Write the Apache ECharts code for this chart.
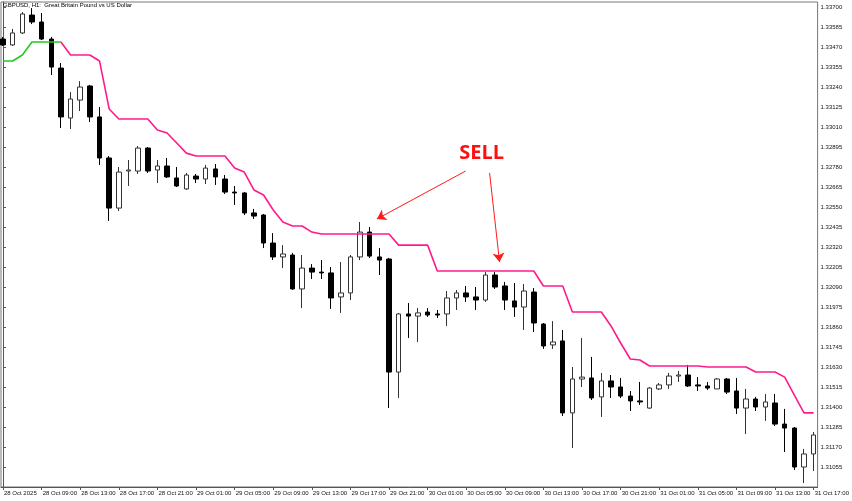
<!DOCTYPE html>
<html><head><meta charset="utf-8">
<script src="https://cdn.jsdelivr.net/npm/echarts@6/dist/echarts.min.js"></script>
<style>html,body{margin:0;padding:0;background:#fff}#c{width:852px;height:501px}</style>
</head><body><div id="c"></div>
<script>
const titleText = 'GBPUSD, H1:  Great Britain Pound vs US Dollar';
const xTickLabels = ["28 Oct 2025","28 Oct 09:00","28 Oct 13:00","28 Oct 17:00","28 Oct 21:00","29 Oct 01:00","29 Oct 05:00","29 Oct 09:00","29 Oct 13:00","29 Oct 17:00","29 Oct 21:00","30 Oct 01:00","30 Oct 05:00","30 Oct 09:00","30 Oct 13:00","30 Oct 17:00","30 Oct 21:00","31 Oct 01:00","31 Oct 05:00","31 Oct 09:00","31 Oct 13:00","31 Oct 17:00"];
const yTicks = [1.31055,1.31170,1.31285,1.31400,1.31515,1.31630,1.31745,1.31860,1.31975,1.32090,1.32205,1.32320,1.32435,1.32550,1.32665,1.32780,1.32895,1.33010,1.33125,1.33240,1.33355,1.33470,1.33585,1.33700];

const opens = [1.33516,1.33482,1.33551,1.33654,1.33614,1.33516,1.33349,1.33062,1.33165,1.33246,
1.33068,1.32832,1.32544,1.32757,1.32757,1.32889,1.32763,1.32786,1.32717,1.32654,
1.32728,1.32711,1.32769,1.32711,1.32636,1.32631,1.32516,1.32504,1.32343,1.32263,
1.32274,1.32079,1.32199,1.32176,1.32171,1.32033,1.32056,1.32263,1.32406,1.32263,
1.32251,1.31601,1.31935,1.31923,1.31946,1.31935,1.31935,1.32027,1.32056,1.32033,
1.32015,1.32159,1.32096,1.32010,1.31975,1.32061,1.31877,1.31757,1.31780,1.31366,
1.31561,1.31567,1.31458,1.31550,1.31515,1.31463,1.31435,1.31394,1.31504,1.31527,
1.31578,1.31584,1.31527,1.31521,1.31504,1.31561,1.31492,1.31394,1.31446,1.31400,
1.31423,1.31302,1.31279,1.31055,1.31130];
const closes = [1.33482,1.33551,1.33660,1.33614,1.33516,1.33355,1.33068,1.33171,1.33240,1.33068,
1.32832,1.32544,1.32751,1.32763,1.32889,1.32757,1.32786,1.32723,1.32671,1.32734,
1.32711,1.32774,1.32723,1.32636,1.32631,1.32516,1.32498,1.32343,1.32263,1.32280,
1.32079,1.32199,1.32176,1.32171,1.32027,1.32056,1.32263,1.32406,1.32268,1.32245,
1.31601,1.31935,1.31923,1.31941,1.31929,1.31929,1.32027,1.32056,1.32033,1.32015,
1.32159,1.32090,1.32015,1.31975,1.32067,1.31883,1.31751,1.31774,1.31366,1.31561,
1.31572,1.31452,1.31550,1.31515,1.31463,1.31435,1.31429,1.31509,1.31527,1.31578,
1.31584,1.31521,1.31521,1.31509,1.31561,1.31486,1.31394,1.31446,1.31400,1.31429,
1.31302,1.31279,1.31055,1.31130,1.31239];
const lows = [1.33476,1.33476,1.33545,1.33602,1.33510,1.33309,1.33004,1.32999,1.33102,1.33039,
1.32792,1.32470,1.32527,1.32671,1.32740,1.32746,1.32688,1.32717,1.32665,1.32648,
1.32688,1.32682,1.32677,1.32625,1.32562,1.32504,1.32481,1.32314,1.32245,1.32199,
1.32073,1.31969,1.32136,1.32136,1.31964,1.31941,1.32015,1.32245,1.32257,1.32159,
1.31394,1.31452,1.31797,1.31774,1.31918,1.31912,1.31866,1.31958,1.32004,1.31958,
1.32004,1.32079,1.31958,1.31918,1.31843,1.31831,1.31734,1.31734,1.31348,1.31164,
1.31515,1.31440,1.31343,1.31452,1.31452,1.31377,1.31412,1.31389,1.31498,1.31504,
1.31544,1.31515,1.31492,1.31498,1.31504,1.31475,1.31360,1.31245,1.31377,1.31320,
1.31291,1.31141,1.31038,1.30963,1.31032];
const highs = [1.33528,1.33574,1.33671,1.33694,1.33666,1.33528,1.33378,1.33211,1.33274,1.33252,
1.33125,1.32843,1.32780,1.32820,1.32901,1.32895,1.32820,1.32832,1.32780,1.32746,
1.32740,1.32792,1.32797,1.32734,1.32671,1.32636,1.32539,1.32510,1.32400,1.32331,
1.32286,1.32274,1.32222,1.32245,1.32205,1.32234,1.32274,1.32464,1.32435,1.32314,
1.32257,1.31941,1.31998,1.31969,1.31969,1.31958,1.32067,1.32073,1.32096,1.32090,
1.32176,1.32176,1.32119,1.32113,1.32107,1.32084,1.31883,1.31894,1.31843,1.31630,
1.31797,1.31688,1.31596,1.31584,1.31567,1.31492,1.31544,1.31515,1.31538,1.31596,
1.31607,1.31642,1.31572,1.31544,1.31567,1.31567,1.31567,1.31504,1.31458,1.31475,
1.31475,1.31389,1.31285,1.31159,1.31256];
const stopLine = [1.33390,1.33390,1.33424,1.33499,1.33499,1.33499,1.33499,1.33424,1.33424,1.33424,
1.33390,1.33114,1.33056,1.33056,1.33056,1.33056,1.32993,1.32976,1.32918,1.32860,
1.32843,1.32843,1.32843,1.32843,1.32774,1.32751,1.32648,1.32619,1.32533,1.32464,
1.32441,1.32441,1.32406,1.32395,1.32395,1.32395,1.32395,1.32395,1.32395,1.32395,
1.32395,1.32331,1.32331,1.32331,1.32331,1.32182,1.32182,1.32182,1.32182,1.32182,
1.32182,1.32182,1.32182,1.32182,1.32182,1.32182,1.32096,1.32096,1.32096,1.31946,
1.31946,1.31946,1.31946,1.31866,1.31768,1.31676,1.31670,1.31636,1.31636,1.31636,
1.31636,1.31636,1.31636,1.31630,1.31630,1.31630,1.31630,1.31630,1.31601,1.31601,
1.31601,1.31572,1.31469,1.31366,1.31366];
const upTrendEnd = 6;
// annotation: SELL label and two arrows [fromIndex, fromPrice, toIndex, toPrice]
const sellLabel = [49.6, 1.32861];
const sellArrows = [[47.94, 1.32757, 38.74, 1.32481],[50.42, 1.32746, 51.45, 1.32234]];

const chart = echarts.init(document.getElementById('c'), null, {renderer:'canvas'});
const candleData = opens.map((o,i)=>[i,o,closes[i],lows[i],highs[i]]);
const upData = stopLine.slice(0, upTrendEnd+1).map((v,i)=>[i,v]);
const downData = stopLine.map((v,i)=>[i,v]).slice(upTrendEnd);
const tickIdx = xTickLabels.map((_,k)=>k*4);
const font = 'Liberation Sans, Arial, sans-serif';

chart.setOption({
  animation:false,
  backgroundColor:'#fff',
  title:{text:titleText, left:3, top:2, padding:0,
    textStyle:{fontSize:6, fontWeight:'normal', color:'#000', fontFamily:font}},
  grid:{left:1, right:32, top:2, bottom:14, show:true, borderColor:'#777', borderWidth:1, backgroundColor:'#fff'},
  xAxis:{type:'value', min:-0.21, max:84.41,
    axisLine:{show:true, lineStyle:{color:'#555', width:1}},
    axisTick:{show:true, customValues:tickIdx, length:3, lineStyle:{color:'#555'}},
    axisLabel:{customValues:tickIdx, formatter:v=>xTickLabels[Math.round(v/4)], align:'left', margin:3,
      fontSize:6, color:'#111', fontFamily:font, padding:[0,0,0,1]},
    splitLine:{show:false}},
  yAxis:{type:'value', position:'right', min:1.30940, max:1.33729, scale:true,
    axisLine:{show:true, lineStyle:{color:'#555', width:1}},
    axisTick:{show:true, customValues:yTicks, length:3, lineStyle:{color:'#555'}},
    axisLabel:{customValues:yTicks, formatter:v=>v.toFixed(5), fontSize:6, margin:3, color:'#111', fontFamily:font},
    splitLine:{show:false}},
  series:[
    {type:'candlestick', data:candleData, encode:{x:0, y:[1,2,3,4]}, barWidth:5,
      itemStyle:{color:'#fff', color0:'#000', borderColor:'#333', borderColor0:'#000', borderWidth:1}},
    {type:'line', data:upData, symbol:'none', lineStyle:{color:'#22c922', width:1.6}, z:5},
    {type:'line', data:downData, symbol:'none', lineStyle:{color:'#ff1a8c', width:1.6}, z:5,
      markPoint:{silent:true, symbol:'rect', symbolSize:1, itemStyle:{color:'rgba(0,0,0,0)'},
        label:{show:true, position:'inside', formatter:'SELL', fontSize:20, fontWeight:'bold', color:'#ff1010', fontFamily:'Open Sans, sans-serif'},
        data:[{coord:sellLabel}]},
      markLine:{silent:true, symbol:['none','arrow'], symbolSize:9, animation:false,
        lineStyle:{color:'#ff1a1a', width:1, type:'solid'}, label:{show:false},
        data:sellArrows.map(a=>[{coord:[a[0],a[1]]},{coord:[a[2],a[3]]}])}}
  ]
});
</script></body></html>
